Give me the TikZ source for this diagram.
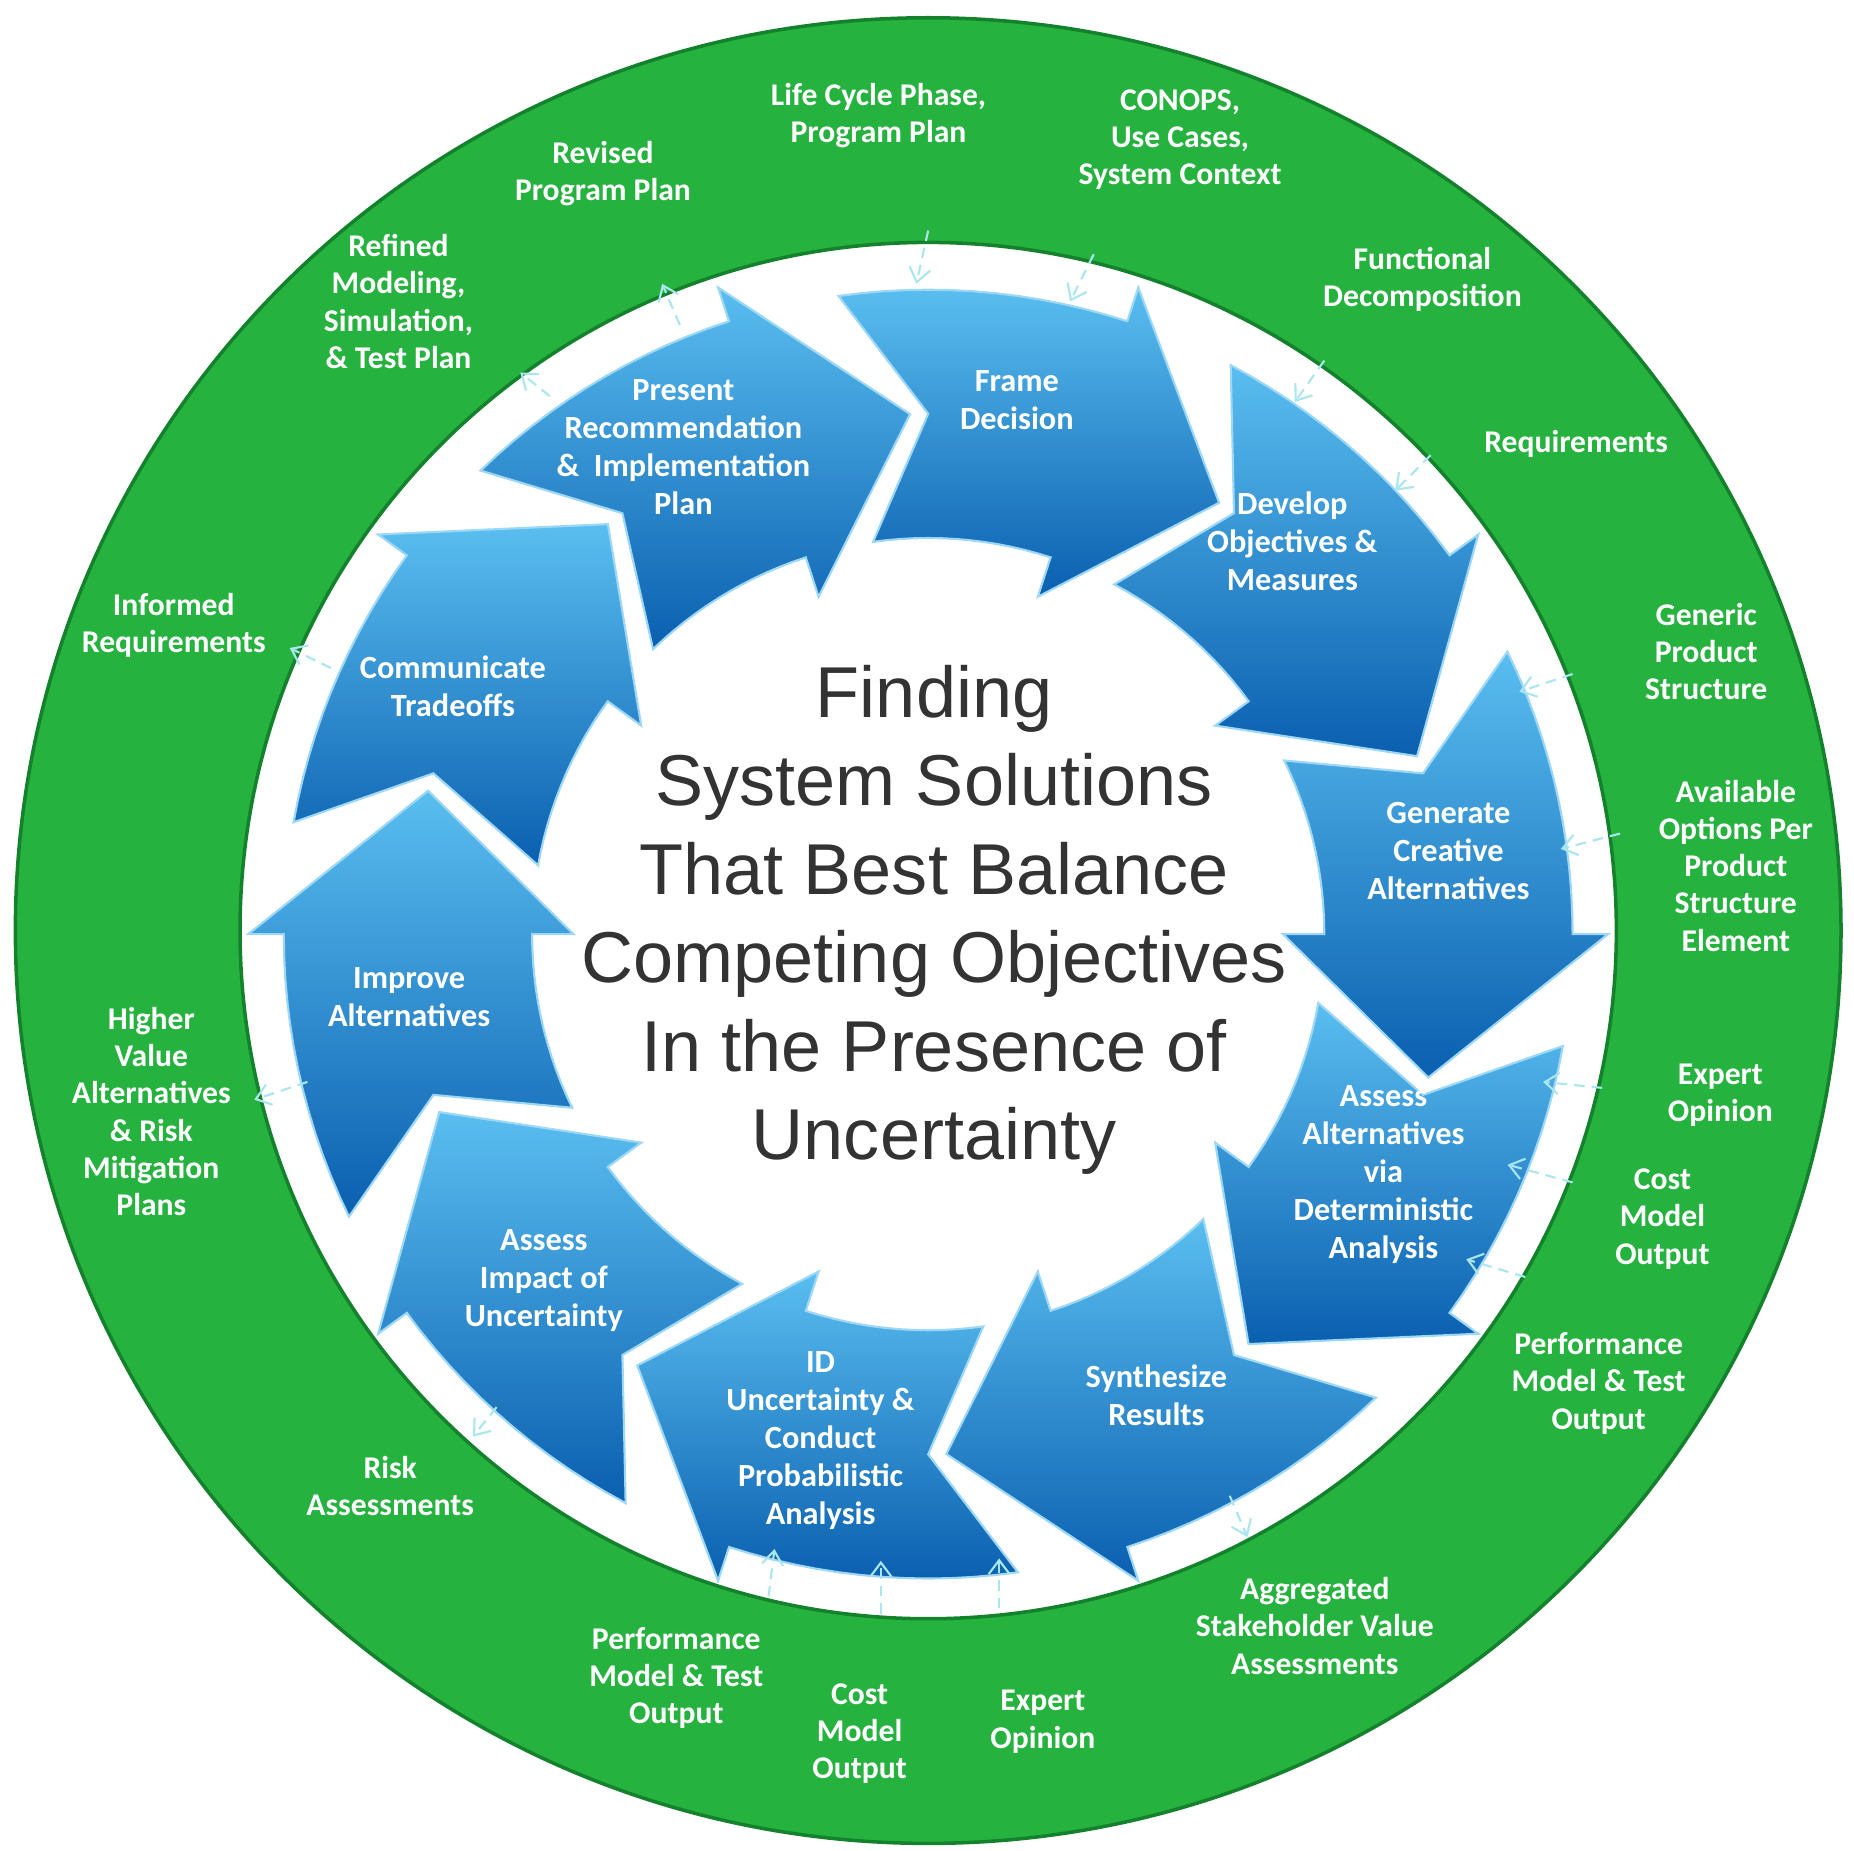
\documentclass[tikz,border=0pt]{standalone}
\usepackage{fontspec}
\setmainfont{Carlito}
\newfontfamily\cent{Liberation Sans}
\usetikzlibrary{arrows.meta}
\definecolor{ringg}{RGB}{38,178,62}
\definecolor{ringd}{RGB}{20,130,45}
\definecolor{arrl}{RGB}{90,190,240}
\definecolor{arrd}{RGB}{10,95,175}
\definecolor{dash}{RGB}{170,230,240}
\tikzset{
 lab/.style={text=white,font=\fontsize{9}{10.6}\selectfont\bfseries,align=center},
 alab/.style={text=white,font=\fontsize{9.2}{10.8}\selectfont\bfseries,align=center},
 arr/.style={top color=arrl,bottom color=arrd,draw=arrl!60!white,line width=0.6pt},
 dsh/.style={draw=dash,densely dashed,line width=0.6pt,-{Straight Barb[length=4pt,width=6pt]}}
}
\begin{document}
\begin{tikzpicture}[x=0.011824cm,y=-0.011824cm]
\useasboundingbox (0,0) rectangle (1568,1565);
\fill[white] (0,0) rectangle (1568,1565);
\fill[ringg,even odd rule,draw=ringd,line width=1pt] (785,787) circle[radius=772] (785,787) circle[radius=582];
\foreach \c in {-80,-44,-8,28,64,100,136,172,208,244}{
 \path[arr] plot[domain=\c-18:\c+8,samples=14] ({785+545*cos(\x)},{790+545*sin(\x)})
  -- ({785+575*cos(\c+8)},{790+575*sin(\c+8)})
  -- ({785+440*cos(\c+24)},{790+440*sin(\c+24)})
  -- ({785+300*cos(\c+8)},{790+300*sin(\c+8)})
  -- plot[domain=\c+8:\c-18,samples=14] ({785+335*cos(\x)},{790+335*sin(\x)})
  -- ({785+440*cos(\c-10)},{790+440*sin(\c-10)}) -- cycle;
}
\node[alab] (a1) at (860,338) {Frame\\Decision};
\node[alab] (a2) at (1093,458) {Develop\\Objectives \&\\Measures};
\node[alab] (a3) at (1225,720) {Generate\\Creative\\Alternatives};
\node[alab] (a4) at (1170,993) {Assess\\Alternatives\\via\\Deterministic\\Analysis};
\node[alab] (a5) at (978,1180) {Synthesize\\Results};
\node[alab] (a6) at (694,1218) {ID\\Uncertainty \&\\Conduct\\Probabilistic\\Analysis};
\node[alab] (a7) at (460,1083) {Assess\\Impact of\\Uncertainty};
\node[alab] (a8) at (346,843) {Improve\\Alternatives};
\node[alab] (a9) at (383,580) {Communicate\\Tradeoffs};
\node[alab] (a10) at (578,378) {Present\\Recommendation\\\&~~Implementation\\Plan};
\node[text=black!80,font=\cent\fontsize{20.5}{25.2}\selectfont,align=center] (ctr) at (790,778)
 {Finding\\System Solutions\\That Best Balance\\Competing Objectives\\In the Presence of\\Uncertainty};
\node[lab] (l1) at (743,98) {Life Cycle Phase,\\Program Plan};
\node[lab] (l2) at (998,118) {CONOPS,\\Use Cases,\\System Context};
\node[lab] (l3) at (510,147) {Revised\\Program Plan};
\node[lab] (l4) at (337,255) {Refined\\Modeling,\\Simulation,\\\& Test Plan};
\node[lab] (l5) at (1203,236) {Functional\\Decomposition};
\node[lab] (l6) at (1333,375) {Requirements};
\node[lab] (l7) at (1443,551) {Generic\\Product\\Structure};
\node[lab] (l8) at (1468,732) {Available\\Options Per\\Product\\Structure\\Element};
\node[lab] (l9) at (1455,926) {Expert\\Opinion};
\node[lab] (l10) at (1406,1031) {Cost\\Model\\Output};
\node[lab] (l11) at (1352,1170) {Performance\\Model \& Test\\Output};
\node[lab] (l12) at (1112,1375) {Aggregated\\Stakeholder Value\\Assessments};
\node[lab] (l13) at (882,1456) {Expert\\Opinion};
\node[lab] (l14) at (727,1466) {Cost\\Model\\Output};
\node[lab] (l15) at (572,1419) {Performance\\Model \& Test\\Output};
\node[lab] (l16) at (330,1257) {Risk\\Assessments};
\node[lab] (l17) at (128,940) {Higher\\Value\\Alternatives\\\& Risk\\Mitigation\\Plans};
\node[lab] (l18) at (147,529) {Informed\\Requirements};
\foreach \n/\xa/\ya/\xb/\yb in {1/785/195/775/240, 2/925/215/905/255, 3/1120/305/1095/340, 4/1210/385/1180/415,
 5/1330/570/1285/585, 6/1370/705/1320/718, 7/1355/920/1305/915, 8/1330/1000/1275/985, 9/1290/1080/1240/1065,
 10/1040/1265/1055/1300, 11/845/1360/845/1318, 12/745/1365/745/1320, 13/650/1350/655/1310, 14/420/1190/400/1215,
 15/260/915/215/930, 16/280/565/245/548, 17/465/335/440/315, 18/575/275/560/240}{
 \coordinate (s\n) at (\xa,\ya); \coordinate (e\n) at (\xb,\yb);
 \draw[dsh] (s\n) -- (e\n);
}
\end{tikzpicture}
\end{document}
